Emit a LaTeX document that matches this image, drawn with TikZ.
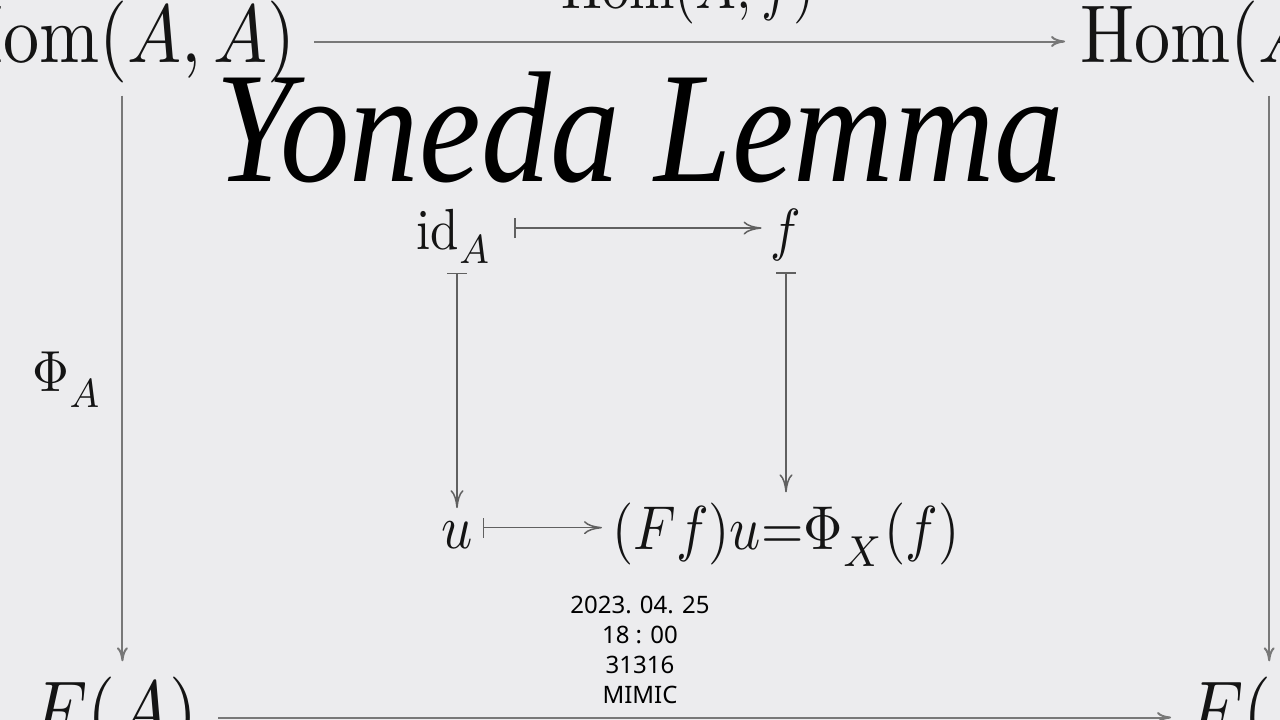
\documentclass[tikz,border=0pt]{standalone}
\usepackage{fontspec}
\usepackage{graphicx}
\usetikzlibrary{arrows.meta}
\newfontfamily\titlefont{Liberation Serif}
\newfontfamily\infofont{Noto Sans}
\definecolor{paper}{RGB}{236,236,238}
\definecolor{ink}{RGB}{20,20,20}
\definecolor{arrgray}{RGB}{120,120,120}
\newcommand{\narrow}[1]{\scalebox{0.88}[1]{#1}}
\newcommand{\fs}[1]{\fontsize{#1}{#1}\selectfont}
% math set at 10pt, then stretched: {x factor}{y factor}{formula}
\newcommand{\mth}[3]{\scalebox{#1}[#2]{\fontsize{10}{12}\selectfont$#3$}}

\begin{document}
\begin{tikzpicture}[x=1pt,y=-1pt,
   lbl/.style={inner sep=0pt,text=ink},
   bigarr/.style={draw=arrgray,line width=2pt,-{Computer Modern Rightarrow[length=14pt,width=11pt]}},
   mapsto/.style={draw=arrgray!80!black,line width=1.5pt,{Bar[width=20pt]}-{Computer Modern Rightarrow[length=18pt,width=13pt]}}]
   \useasboundingbox (0,0) rectangle (1280,720);
   \fill[paper] (0,0) rectangle (1280,720);
   \clip (0,0) rectangle (1280,720);

   \node[lbl,anchor=base east] (homAA) at (296,62) {\mth{7.216}{8.2}{\mathrm{Hom}(A,A)}};
   \node[lbl,anchor=base west] (homAX) at (1080,62) {\mth{7.216}{8.2}{\mathrm{Hom}(A,X)}};
   \node[lbl,anchor=base east] (FA) at (198,738) {\mth{7.216}{8.2}{F(A)}};
   \node[lbl,anchor=base west] (FX) at (1187,738) {\mth{7.216}{8.2}{F(X)}};
   \draw[bigarr,shorten <=18pt,shorten >=15pt] (homAA) -- (homAX)
      node[lbl,midway,above=16pt] (homAf) {\mth{5.456}{6.2}{\mathrm{Hom}(A,f)}};
   \draw[bigarr,shorten <=13pt,shorten >=15pt] (homAA.south) -- (homAA.south |- FA.north)
      node[lbl,midway,left=19pt] (phiA) {\mth{5.104}{5.8}{\Phi^{}_A}};
   \draw[bigarr,shorten <=13pt,shorten >=15pt] ([xshift=-7pt]FX.north |- homAX.south) -- ([xshift=-7pt]FX.north);
   \draw[bigarr,shorten <=20pt,shorten >=16pt] (FA) -- (FX);

   \node[font={\titlefont\itshape\fs{158}},anchor=base,inner sep=0pt] (title) at (640,181) {\narrow{Yoneda Lemma}};

   \node[lbl,anchor=base west] (idA) at (416,249) {\mth{5.104}{5.8}{\mathrm{id}^{}_A}};
   \node[lbl,anchor=base] (f) at (786,249) {\mth{5.104}{5.8}{f}};
   \node[lbl,anchor=base] (u) at (457,548) {\mth{5.456}{6.2}{u}};
   \node[lbl,anchor=base west] (Ffu) at (612,549) {\mth{5.456}{6.2}{(Ff)u{=}\Phi^{}_X(f)}};
   \draw[mapsto,shorten <=22pt,shorten >=9pt] ([yshift=8pt]idA.east) -- ([yshift=8pt]idA.east -| f.west);
   \draw[mapsto,shorten <=9pt,shorten >=13pt] (u.north |- idA.south) -- (u.north);
   \draw[mapsto,shorten <=12pt,shorten >=10pt] (f.south) -- (f.south |- Ffu.north);
   \draw[mapsto,shorten <=10pt,shorten >=10pt] ([yshift=7pt]u.east) -- ([yshift=7pt]u.east -| Ffu.west);

   \node[font={\infofont\fontsize{24}{30}\selectfont},align=center,anchor=north,inner sep=0pt] (info) at (640,596)
      {2023. 04. 25\\18 : 00\\31316\\MIMIC};
\end{tikzpicture}
\end{document}
